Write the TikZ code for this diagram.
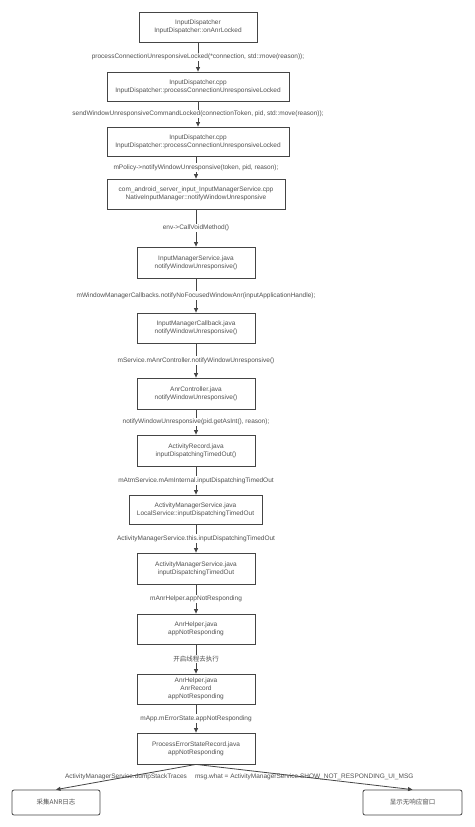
\documentclass[tikz,border=0pt]{standalone}
\usepackage{fontspec}
\setmainfont{Liberation Sans}
\newfontfamily\cjk{Noto Sans CJK SC}
\usetikzlibrary{arrows.meta}
\definecolor{linegray}{HTML}{454545}
\definecolor{textgray}{HTML}{505050}

\begin{document}
\begin{tikzpicture}[x=1pt, y=-1pt, >={Triangle[length=4.5pt,width=4pt]},
    box/.style={draw=linegray, line width=0.8pt, align=center, minimum width=118pt, minimum height=30pt,
        inner sep=2pt, text=textgray, font=\fontsize{6.5}{8}\selectfont},
    call/.style={fill=white, inner sep=1pt, text=textgray, font=\fontsize{6.5}{8}\selectfont},
    flow/.style={->, draw=linegray, line width=0.8pt}]
    \useasboundingbox (0,0) rectangle (474,827);
    % Call chain boxes
    \node[box] (onanr) at (198,27) {InputDispatcher\\InputDispatcher::onAnrLocked};
    \node[box, minimum width=182pt, minimum height=29pt] (proccpp) at (198,86.5) {InputDispatcher.cpp\\InputDispatcher::processConnectionUnresponsiveLocked};
    \node[box, minimum width=182pt, minimum height=29pt] (sendcpp) at (198,141.5) {InputDispatcher.cpp\\InputDispatcher::processConnectionUnresponsiveLocked};
    \node[box, minimum width=178pt] (nativeim) at (196,194) {com\_android\_server\_input\_InputManagerService.cpp\\NativeInputManager::notifyWindowUnresponsive};
    \node[box, minimum height=31pt] (imsjava) at (196,262.5) {InputManagerService.java\\notifyWindowUnresponsive()};
    \node[box] (imcallback) at (196,328) {InputManagerCallback.java\\notifyWindowUnresponsive()};
    \node[box, minimum height=31pt] (anrctrl) at (196,393.5) {AnrController.java\\notifyWindowUnresponsive()};
    \node[box, minimum height=31pt] (actrecord) at (196,450.5) {ActivityRecord.java\\inputDispatchingTimedOut()};
    \node[box, minimum width=133pt, minimum height=29pt] (amslocal) at (195.5,509.5) {ActivityManagerService.java\\LocalService::inputDispatchingTimedOut};
    \node[box, minimum height=31pt] (amsjava) at (196,568.5) {ActivityManagerService.java\\inputDispatchingTimedOut};
    \node[box] (anrhelper) at (196,629) {AnrHelper.java\\appNotResponding};
    \node[box] (anrrecord) at (196,689) {AnrHelper.java\\AnrRecord\\appNotResponding};
    \node[box, minimum height=31pt] (errstate) at (196,748.5) {ProcessErrorStateRecord.java\\appNotResponding};
    % Outcomes
    \node[box, rounded corners=2pt, minimum width=88pt, minimum height=25pt] (dumplog) at (56,802.5) {\cjk 采集ANR日志};
    \node[box, rounded corners=2pt, minimum width=99pt, minimum height=25pt] (anrdialog) at (412.5,802.5) {\cjk 显示无响应窗口};

    \draw[flow] (onanr) -- node[call] {processConnectionUnresponsiveLocked(*connection, std::move(reason));} (proccpp);
    \draw[flow] (proccpp) -- node[call] {sendWindowUnresponsiveCommandLocked(connectionToken, pid, std::move(reason));} (sendcpp);
    \draw[flow] (sendcpp.south -| nativeim) -- node[call] {mPolicy-\textgreater notifyWindowUnresponsive(token, pid, reason);} (nativeim);
    \draw[flow] (nativeim) -- node[call] {env-\textgreater CallVoidMethod()} (imsjava);
    \draw[flow] (imsjava) -- node[call] {mWindowManagerCallbacks.notifyNoFocusedWindowAnr(inputApplicationHandle);} (imcallback);
    \draw[flow] (imcallback) -- node[call] {mService.mAnrController.notifyWindowUnresponsive()} (anrctrl);
    \draw[flow] (anrctrl) -- node[call] {notifyWindowUnresponsive(pid.getAsInt(), reason);} (actrecord);
    \draw[flow] (actrecord) -- node[call] {mAtmService.mAmInternal.inputDispatchingTimedOut} (amslocal.north -| actrecord);
    \draw[flow] (amslocal.south -| amsjava) -- node[call] {ActivityManagerService.this.inputDispatchingTimedOut} (amsjava);
    \draw[flow] (amsjava) -- node[call] {mAnrHelper.appNotResponding} (anrhelper);
    \draw[flow] (anrhelper) -- node[call] {\cjk 开启线程去执行} (anrrecord);
    \draw[flow] (anrrecord) -- node[call] {mApp.mErrorState.appNotResponding} (errstate);
    % Branches
    \draw[flow] (errstate.south) -- node[call, fill=none] {ActivityManagerService.dumpStackTraces} (dumplog.north);
    \draw[flow] (errstate.south) -- node[call, fill=none] {msg.what = ActivityManagerService.SHOW\_NOT\_RESPONDING\_UI\_MSG} (anrdialog.north);
\end{tikzpicture}
\end{document}
